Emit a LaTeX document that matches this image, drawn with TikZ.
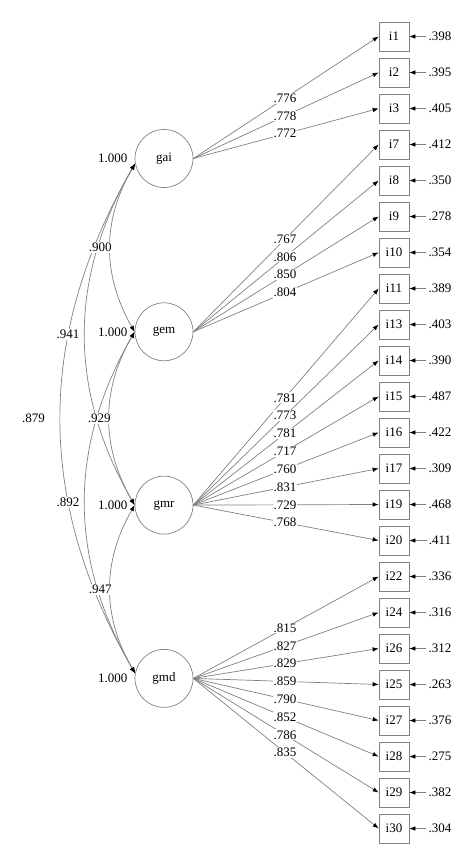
\documentclass[tikz,border=0pt]{standalone}
\usepackage{fontspec}
\setmainfont{Liberation Serif}
\usetikzlibrary{arrows.meta}
\tikzstyle{latent} = [
    circle,
    minimum size=58pt,
    inner sep=0pt,
    draw=black!50,
    line width=0.7pt
]
\tikzstyle{observed} = [
    rectangle,
    minimum width=30pt,
    minimum height=29pt,
    inner sep=0pt,
    draw=black!50,
    line width=0.7pt
]
\tikzstyle{coef} = [fill=white, inner sep=1pt]
\tikzstyle{errlab} = [inner sep=2pt, node distance=46pt]
\tikzstyle{varlab} = [inner sep=1pt, anchor=east]
\tikzstyle{arrow} = [
    draw=black!50,
    line width=0.7pt,
    -{Latex[color=black,length=6pt,width=4.5pt]}
]
\tikzstyle{covar} = [
    draw=black!50,
    line width=0.7pt,
    {Latex[color=black,length=6pt,width=4.5pt]}-{Latex[color=black,length=6pt,width=4.5pt]}
]

\begin{document}
\begin{tikzpicture}[x=1pt, y=1pt, node distance=36pt,
    font=\fontsize{13}{15}\selectfont]
\useasboundingbox (0,0) rectangle (474,-848);

% latent factors
\node (gai) [latent] at (164,-158.5) {gai};
\node (gem) [latent, node distance=173.3pt, below of=gai] {gem};
\node (gmr) [latent, node distance=173.3pt, below of=gem] {gmr};
\node (gmd) [latent, node distance=173.3pt, below of=gmr] {gmd};

\node (v1) [varlab] at ([xshift=-6pt]gai.west) {1.000};
\node (v2) [varlab] at ([xshift=-6pt]gem.west) {1.000};
\node (v3) [varlab] at ([xshift=-6pt]gmr.west) {1.000};
\node (v4) [varlab] at ([xshift=-6pt]gmd.west) {1.000};

% items
\node (i1) [observed] at (394,-36.5) {i1};
\node (i2) [observed, below of=i1] {i2};
\node (i3) [observed, below of=i2] {i3};
\node (i7) [observed, below of=i3] {i7};
\node (i8) [observed, below of=i7] {i8};
\node (i9) [observed, below of=i8] {i9};
\node (i10) [observed, below of=i9] {i10};
\node (i11) [observed, below of=i10] {i11};
\node (i13) [observed, below of=i11] {i13};
\node (i14) [observed, below of=i13] {i14};
\node (i15) [observed, below of=i14] {i15};
\node (i16) [observed, below of=i15] {i16};
\node (i17) [observed, below of=i16] {i17};
\node (i19) [observed, below of=i17] {i19};
\node (i20) [observed, below of=i19] {i20};
\node (i22) [observed, below of=i20] {i22};
\node (i24) [observed, below of=i22] {i24};
\node (i26) [observed, below of=i24] {i26};
\node (i25) [observed, below of=i26] {i25};
\node (i27) [observed, below of=i25] {i27};
\node (i28) [observed, below of=i27] {i28};
\node (i29) [observed, below of=i28] {i29};
\node (i30) [observed, below of=i29] {i30};

% error variances
\node (e1) [errlab, right of=i1] {.398};
\node (e2) [errlab, right of=i2] {.395};
\node (e3) [errlab, right of=i3] {.405};
\node (e7) [errlab, right of=i7] {.412};
\node (e8) [errlab, right of=i8] {.350};
\node (e9) [errlab, right of=i9] {.278};
\node (e10) [errlab, right of=i10] {.354};
\node (e11) [errlab, right of=i11] {.389};
\node (e13) [errlab, right of=i13] {.403};
\node (e14) [errlab, right of=i14] {.390};
\node (e15) [errlab, right of=i15] {.487};
\node (e16) [errlab, right of=i16] {.422};
\node (e17) [errlab, right of=i17] {.309};
\node (e19) [errlab, right of=i19] {.468};
\node (e20) [errlab, right of=i20] {.411};
\node (e22) [errlab, right of=i22] {.336};
\node (e24) [errlab, right of=i24] {.316};
\node (e26) [errlab, right of=i26] {.312};
\node (e25) [errlab, right of=i25] {.263};
\node (e27) [errlab, right of=i27] {.376};
\node (e28) [errlab, right of=i28] {.275};
\node (e29) [errlab, right of=i29] {.382};
\node (e30) [errlab, right of=i30] {.304};

\draw [arrow] (e1) -- (i1);
\draw [arrow] (e2) -- (i2);
\draw [arrow] (e3) -- (i3);
\draw [arrow] (e7) -- (i7);
\draw [arrow] (e8) -- (i8);
\draw [arrow] (e9) -- (i9);
\draw [arrow] (e10) -- (i10);
\draw [arrow] (e11) -- (i11);
\draw [arrow] (e13) -- (i13);
\draw [arrow] (e14) -- (i14);
\draw [arrow] (e15) -- (i15);
\draw [arrow] (e16) -- (i16);
\draw [arrow] (e17) -- (i17);
\draw [arrow] (e19) -- (i19);
\draw [arrow] (e20) -- (i20);
\draw [arrow] (e22) -- (i22);
\draw [arrow] (e24) -- (i24);
\draw [arrow] (e26) -- (i26);
\draw [arrow] (e25) -- (i25);
\draw [arrow] (e27) -- (i27);
\draw [arrow] (e28) -- (i28);
\draw [arrow] (e29) -- (i29);
\draw [arrow] (e30) -- (i30);

% loadings
\draw [arrow] (gai.east) -- node[coef, pos=.495] {.776} (i1.west);
\draw [arrow] (gai.east) -- node[coef, pos=.495] {.778} (i2.west);
\draw [arrow] (gai.east) -- node[coef, pos=.495] {.772} (i3.west);

\draw [arrow] (gem.east) -- node[coef, pos=.495] {.767} (i7.west);
\draw [arrow] (gem.east) -- node[coef, pos=.495] {.806} (i8.west);
\draw [arrow] (gem.east) -- node[coef, pos=.495] {.850} (i9.west);
\draw [arrow] (gem.east) -- node[coef, pos=.495] {.804} (i10.west);

\draw [arrow] (gmr.east) -- node[coef, pos=.495] {.781} (i11.west);
\draw [arrow] (gmr.east) -- node[coef, pos=.495] {.773} (i13.west);
\draw [arrow] (gmr.east) -- node[coef, pos=.495] {.781} (i14.west);
\draw [arrow] (gmr.east) -- node[coef, pos=.495] {.717} (i15.west);
\draw [arrow] (gmr.east) -- node[coef, pos=.495] {.760} (i16.west);
\draw [arrow] (gmr.east) -- node[coef, pos=.495] {.831} (i17.west);
\draw [arrow] (gmr.east) -- node[coef, pos=.495] {.729} (i19.west);
\draw [arrow] (gmr.east) -- node[coef, pos=.495] {.768} (i20.west);

\draw [arrow] (gmd.east) -- node[coef, pos=.495] {.815} (i22.west);
\draw [arrow] (gmd.east) -- node[coef, pos=.495] {.827} (i24.west);
\draw [arrow] (gmd.east) -- node[coef, pos=.495] {.829} (i26.west);
\draw [arrow] (gmd.east) -- node[coef, pos=.495] {.859} (i25.west);
\draw [arrow] (gmd.east) -- node[coef, pos=.495] {.790} (i27.west);
\draw [arrow] (gmd.east) -- node[coef, pos=.495] {.852} (i28.west);
\draw [arrow] (gmd.east) -- node[coef, pos=.495] {.786} (i29.west);
\draw [arrow] (gmd.east) -- node[coef, pos=.495] {.835} (i30.west);

% correlations
\draw [covar] (gai.190) to[bend right=30] coordinate[pos=.5] (c12) (gem.west);
\draw [covar] (gem.west) to[bend right=30] coordinate[pos=.5] (c23) (gmr.west);
\draw [covar] (gmr.west) to[bend right=30] coordinate[pos=.5] (c34) (gmd.170);
\draw [covar] (gai.190) to[bend right=30] coordinate[pos=.5] (c13) (gmr.west);
\draw [covar] (gem.west) to[bend right=30] coordinate[pos=.5] (c24) (gmd.170);
\draw [covar] (gai.190) to[bend right=30] coordinate[pos=.5] (c14) (gmd.170);

\node (r12) [coef, xshift=-10pt] at (c12) {.900};
\node (r23) [coef, xshift=-10pt] at (c23) {.929};
\node (r34) [coef, xshift=-10pt] at (c34) {.947};
\node (r13) [coef, xshift=-17pt] at (c13) {.941};
\node (r24) [coef, xshift=-17pt] at (c24) {.892};
\node (r14) [coef, xshift=-27pt] at (c14) {.879};

\end{tikzpicture}
\end{document}
